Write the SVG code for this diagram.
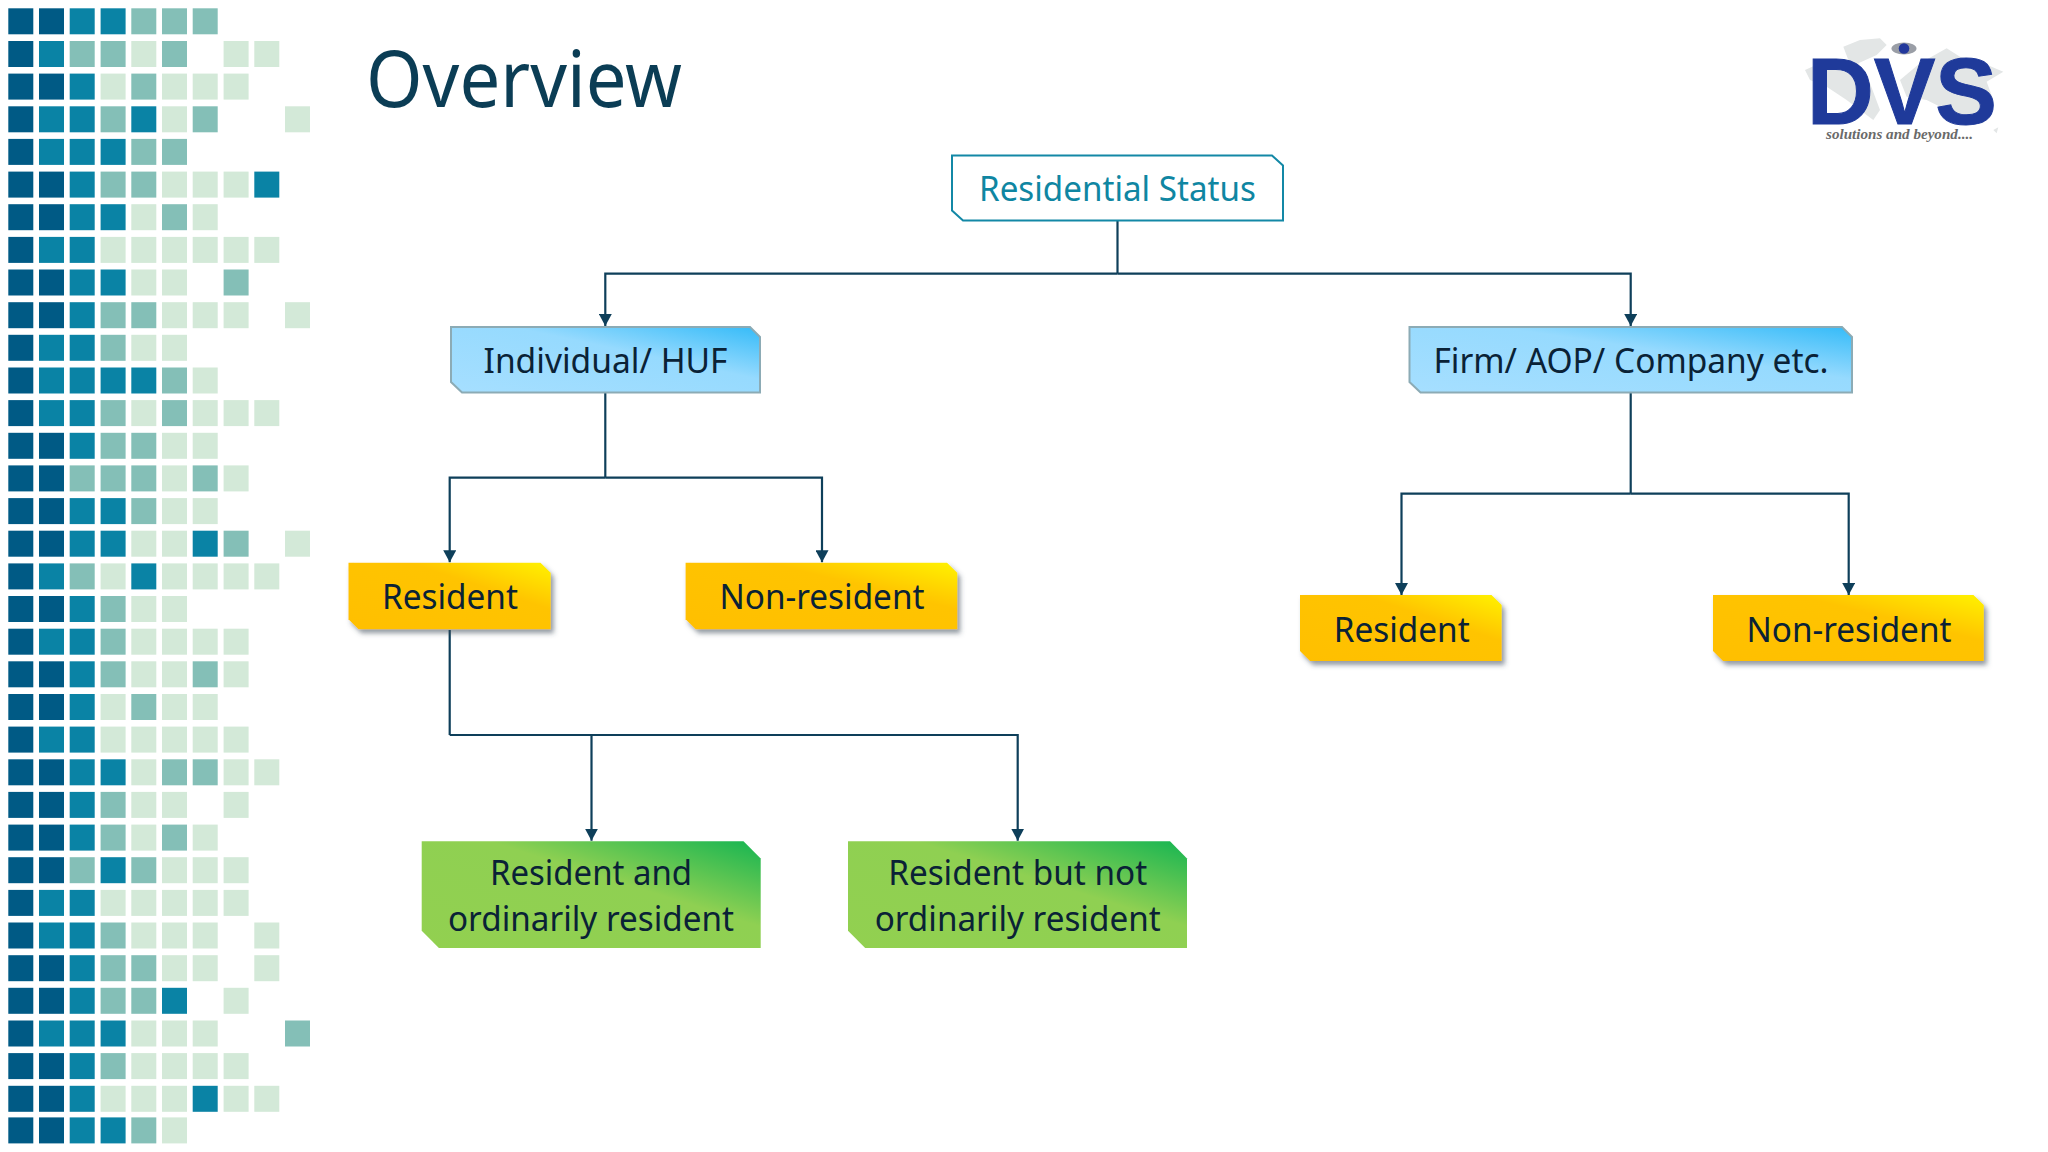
<svg xmlns="http://www.w3.org/2000/svg" width="2048" height="1152" viewBox="0 0 2048 1152">
<style>
text{font-family:"Noto Sans","Open Sans","Liberation Sans",sans-serif;text-anchor:middle}
.lbl{font-size:34px;fill:#0a2236}
.cn{fill:none;stroke:#0e3f5a;stroke-width:2.2}
.sq rect{width:25px;height:26px}
.d{fill:#005a85}.t{fill:#0a83a5}.m{fill:#84bfb7}.l{fill:#d3e9d8}
.blob{fill:#e3e6e6}
</style>
<defs>
<marker id="arr" markerUnits="userSpaceOnUse" markerWidth="13" markerHeight="13" refX="12" refY="6.5" orient="auto"><path d="M0 0L12 6.5L0 13z" fill="#0e3f5a"/></marker>
<linearGradient id="blue" x1="0" y1="1" x2="1" y2="0"><stop offset="0" stop-color="#a6dfff"/><stop offset=".6" stop-color="#96dafe"/><stop offset="1" stop-color="#35bbf8"/></linearGradient>
<linearGradient id="yel" x1="0" y1="1" x2="1" y2="0"><stop offset="0" stop-color="#ffbf00"/><stop offset=".65" stop-color="#ffc400"/><stop offset="1" stop-color="#fff200"/></linearGradient>
<linearGradient id="grn" x1="0" y1="1" x2="1" y2="0"><stop offset="0" stop-color="#92d050"/><stop offset=".6" stop-color="#8fd052"/><stop offset="1" stop-color="#16b552"/></linearGradient>
<filter id="sh" x="-10%" y="-10%" width="125%" height="135%"><feDropShadow dx="3" dy="4" stdDeviation="2.5" flood-color="#3a4a55" flood-opacity=".55"/></filter>
</defs>
<rect width="2048" height="1152" fill="#fff"/>
<g id="pattern" class="sq">
<g transform="translate(0,8.3)"><rect class="d" x="8.3"/><rect class="d" x="39"/><rect class="t" x="69.7"/><rect class="t" x="100.6"/><rect class="m" x="131.3"/><rect class="m" x="162"/><rect class="m" x="192.7"/></g>
<g transform="translate(0,41)"><rect class="d" x="8.3"/><rect class="t" x="39"/><rect class="m" x="69.7"/><rect class="m" x="100.6"/><rect class="l" x="131.3"/><rect class="m" x="162"/><rect class="l" x="223.6"/><rect class="l" x="254.3"/></g>
<g transform="translate(0,73.6)"><rect class="d" x="8.3"/><rect class="d" x="39"/><rect class="t" x="69.7"/><rect class="l" x="100.6"/><rect class="m" x="131.3"/><rect class="l" x="162"/><rect class="l" x="192.7"/><rect class="l" x="223.6"/></g>
<g transform="translate(0,106.3)"><rect class="d" x="8.3"/><rect class="t" x="39"/><rect class="t" x="69.7"/><rect class="m" x="100.6"/><rect class="t" x="131.3"/><rect class="l" x="162"/><rect class="m" x="192.7"/><rect class="l" x="285"/></g>
<g transform="translate(0,138.9)"><rect class="d" x="8.3"/><rect class="t" x="39"/><rect class="t" x="69.7"/><rect class="t" x="100.6"/><rect class="m" x="131.3"/><rect class="m" x="162"/></g>
<g transform="translate(0,171.6)"><rect class="d" x="8.3"/><rect class="d" x="39"/><rect class="t" x="69.7"/><rect class="m" x="100.6"/><rect class="m" x="131.3"/><rect class="l" x="162"/><rect class="l" x="192.7"/><rect class="l" x="223.6"/><rect class="t" x="254.3"/></g>
<g transform="translate(0,204.2)"><rect class="d" x="8.3"/><rect class="d" x="39"/><rect class="t" x="69.7"/><rect class="t" x="100.6"/><rect class="l" x="131.3"/><rect class="m" x="162"/><rect class="l" x="192.7"/></g>
<g transform="translate(0,236.9)"><rect class="d" x="8.3"/><rect class="t" x="39"/><rect class="t" x="69.7"/><rect class="l" x="100.6"/><rect class="l" x="131.3"/><rect class="l" x="162"/><rect class="l" x="192.7"/><rect class="l" x="223.6"/><rect class="l" x="254.3"/></g>
<g transform="translate(0,269.5)"><rect class="d" x="8.3"/><rect class="d" x="39"/><rect class="t" x="69.7"/><rect class="t" x="100.6"/><rect class="l" x="131.3"/><rect class="l" x="162"/><rect class="m" x="223.6"/></g>
<g transform="translate(0,302.2)"><rect class="d" x="8.3"/><rect class="d" x="39"/><rect class="t" x="69.7"/><rect class="m" x="100.6"/><rect class="m" x="131.3"/><rect class="l" x="162"/><rect class="l" x="192.7"/><rect class="l" x="223.6"/><rect class="l" x="285"/></g>
<g transform="translate(0,334.8)"><rect class="d" x="8.3"/><rect class="t" x="39"/><rect class="t" x="69.7"/><rect class="m" x="100.6"/><rect class="l" x="131.3"/><rect class="l" x="162"/></g>
<g transform="translate(0,367.5)"><rect class="d" x="8.3"/><rect class="t" x="39"/><rect class="t" x="69.7"/><rect class="t" x="100.6"/><rect class="t" x="131.3"/><rect class="m" x="162"/><rect class="l" x="192.7"/></g>
<g transform="translate(0,400.1)"><rect class="d" x="8.3"/><rect class="t" x="39"/><rect class="t" x="69.7"/><rect class="m" x="100.6"/><rect class="l" x="131.3"/><rect class="m" x="162"/><rect class="l" x="192.7"/><rect class="l" x="223.6"/><rect class="l" x="254.3"/></g>
<g transform="translate(0,432.8)"><rect class="d" x="8.3"/><rect class="d" x="39"/><rect class="t" x="69.7"/><rect class="m" x="100.6"/><rect class="m" x="131.3"/><rect class="l" x="162"/><rect class="l" x="192.7"/></g>
<g transform="translate(0,465.4)"><rect class="d" x="8.3"/><rect class="d" x="39"/><rect class="m" x="69.7"/><rect class="m" x="100.6"/><rect class="m" x="131.3"/><rect class="l" x="162"/><rect class="m" x="192.7"/><rect class="l" x="223.6"/></g>
<g transform="translate(0,498.1)"><rect class="d" x="8.3"/><rect class="d" x="39"/><rect class="t" x="69.7"/><rect class="t" x="100.6"/><rect class="m" x="131.3"/><rect class="l" x="162"/><rect class="l" x="192.7"/></g>
<g transform="translate(0,530.7)"><rect class="d" x="8.3"/><rect class="d" x="39"/><rect class="t" x="69.7"/><rect class="t" x="100.6"/><rect class="l" x="131.3"/><rect class="l" x="162"/><rect class="t" x="192.7"/><rect class="m" x="223.6"/><rect class="l" x="285"/></g>
<g transform="translate(0,563.4)"><rect class="d" x="8.3"/><rect class="t" x="39"/><rect class="m" x="69.7"/><rect class="l" x="100.6"/><rect class="t" x="131.3"/><rect class="l" x="162"/><rect class="l" x="192.7"/><rect class="l" x="223.6"/><rect class="l" x="254.3"/></g>
<g transform="translate(0,596)"><rect class="d" x="8.3"/><rect class="d" x="39"/><rect class="t" x="69.7"/><rect class="m" x="100.6"/><rect class="l" x="131.3"/><rect class="l" x="162"/></g>
<g transform="translate(0,628.7)"><rect class="d" x="8.3"/><rect class="t" x="39"/><rect class="t" x="69.7"/><rect class="m" x="100.6"/><rect class="l" x="131.3"/><rect class="l" x="162"/><rect class="l" x="192.7"/><rect class="l" x="223.6"/></g>
<g transform="translate(0,661.3)"><rect class="d" x="8.3"/><rect class="d" x="39"/><rect class="t" x="69.7"/><rect class="m" x="100.6"/><rect class="l" x="131.3"/><rect class="l" x="162"/><rect class="m" x="192.7"/><rect class="l" x="223.6"/></g>
<g transform="translate(0,694)"><rect class="d" x="8.3"/><rect class="d" x="39"/><rect class="t" x="69.7"/><rect class="l" x="100.6"/><rect class="m" x="131.3"/><rect class="l" x="162"/><rect class="l" x="192.7"/></g>
<g transform="translate(0,726.6)"><rect class="d" x="8.3"/><rect class="t" x="39"/><rect class="t" x="69.7"/><rect class="l" x="100.6"/><rect class="l" x="131.3"/><rect class="l" x="162"/><rect class="l" x="192.7"/><rect class="l" x="223.6"/></g>
<g transform="translate(0,759.3)"><rect class="d" x="8.3"/><rect class="d" x="39"/><rect class="t" x="69.7"/><rect class="t" x="100.6"/><rect class="l" x="131.3"/><rect class="m" x="162"/><rect class="m" x="192.7"/><rect class="l" x="223.6"/><rect class="l" x="254.3"/></g>
<g transform="translate(0,791.9)"><rect class="d" x="8.3"/><rect class="d" x="39"/><rect class="t" x="69.7"/><rect class="m" x="100.6"/><rect class="l" x="131.3"/><rect class="l" x="162"/><rect class="l" x="223.6"/></g>
<g transform="translate(0,824.6)"><rect class="d" x="8.3"/><rect class="d" x="39"/><rect class="t" x="69.7"/><rect class="m" x="100.6"/><rect class="l" x="131.3"/><rect class="m" x="162"/><rect class="l" x="192.7"/></g>
<g transform="translate(0,857.2)"><rect class="d" x="8.3"/><rect class="d" x="39"/><rect class="m" x="69.7"/><rect class="t" x="100.6"/><rect class="m" x="131.3"/><rect class="l" x="162"/><rect class="l" x="192.7"/><rect class="l" x="223.6"/></g>
<g transform="translate(0,889.9)"><rect class="d" x="8.3"/><rect class="t" x="39"/><rect class="t" x="69.7"/><rect class="l" x="100.6"/><rect class="l" x="131.3"/><rect class="l" x="162"/><rect class="l" x="192.7"/><rect class="l" x="223.6"/></g>
<g transform="translate(0,922.5)"><rect class="d" x="8.3"/><rect class="t" x="39"/><rect class="t" x="69.7"/><rect class="m" x="100.6"/><rect class="l" x="131.3"/><rect class="l" x="162"/><rect class="l" x="192.7"/><rect class="l" x="254.3"/></g>
<g transform="translate(0,955.2)"><rect class="d" x="8.3"/><rect class="d" x="39"/><rect class="t" x="69.7"/><rect class="m" x="100.6"/><rect class="m" x="131.3"/><rect class="l" x="162"/><rect class="l" x="192.7"/><rect class="l" x="254.3"/></g>
<g transform="translate(0,987.8)"><rect class="d" x="8.3"/><rect class="d" x="39"/><rect class="t" x="69.7"/><rect class="m" x="100.6"/><rect class="m" x="131.3"/><rect class="t" x="162"/><rect class="l" x="223.6"/></g>
<g transform="translate(0,1020.5)"><rect class="d" x="8.3"/><rect class="t" x="39"/><rect class="t" x="69.7"/><rect class="t" x="100.6"/><rect class="l" x="131.3"/><rect class="l" x="162"/><rect class="l" x="192.7"/><rect class="m" x="285"/></g>
<g transform="translate(0,1053.1)"><rect class="d" x="8.3"/><rect class="d" x="39"/><rect class="t" x="69.7"/><rect class="m" x="100.6"/><rect class="l" x="131.3"/><rect class="l" x="162"/><rect class="l" x="192.7"/><rect class="l" x="223.6"/></g>
<g transform="translate(0,1085.8)"><rect class="d" x="8.3"/><rect class="d" x="39"/><rect class="t" x="69.7"/><rect class="l" x="100.6"/><rect class="l" x="131.3"/><rect class="l" x="162"/><rect class="t" x="192.7"/><rect class="l" x="223.6"/><rect class="l" x="254.3"/></g>
<g transform="translate(0,1117.4)"><rect class="d" x="8.3"/><rect class="d" x="39"/><rect class="t" x="69.7"/><rect class="t" x="100.6"/><rect class="m" x="131.3"/><rect class="l" x="162"/></g>
</g>
<text id="title" x="524" y="107" font-size="78" fill="#0b3d55" textLength="316" lengthAdjust="spacingAndGlyphs">Overview</text>
<g id="logo">
<g transform="translate(1780,20) scale(.3333)">
<path class="blob" d="M75 150L130 125L205 120L190 80L240 60L300 55L320 75L290 105L235 130L270 190L300 270L280 300L200 240L140 200L90 180z"/>
<path class="blob" d="M360 180L420 130L500 85L540 110L610 130L670 155L620 185L640 240L610 310L560 300L500 270L440 240L380 230z"/>
<path class="blob" d="M640 330L655 322L650 340z"/>
</g>
<ellipse cx="1904" cy="48.500" rx="12.500" ry="6" fill="#9a9ea6"/>
<circle cx="1904" cy="48.500" r="5.300" fill="#22389c"/>
<text x="1902" y="124" font-size="94" font-weight="700" fill="#1f3a9a" stroke="#1f3a9a" stroke-width="1" style="font-family:'Liberation Sans',sans-serif" textLength="190" lengthAdjust="spacingAndGlyphs">DVS</text>
<text x="1899.500" y="139" font-size="14" font-weight="700" font-style="italic" fill="#6a6a6a" style="font-family:'Liberation Serif',serif" textLength="147" lengthAdjust="spacingAndGlyphs">solutions and beyond....</text>
</g>
<g id="connectors" class="cns">
<path class="cn" d="M1117.500 221V273.700"/>
<path class="cn" d="M1117.500 273.700H605.300V326" marker-end="url(#arr)"/>
<path class="cn" d="M1117.500 273.700H1630.700V326" marker-end="url(#arr)"/>
<path class="cn" d="M605.300 393V477.700"/>
<path class="cn" d="M605.300 477.700H449.700V562.300" marker-end="url(#arr)"/>
<path class="cn" d="M605.300 477.700H822V562.300" marker-end="url(#arr)"/>
<path class="cn" d="M1630.700 393V493.700"/>
<path class="cn" d="M1630.700 493.700H1401.500V595" marker-end="url(#arr)"/>
<path class="cn" d="M1630.700 493.700H1848.700V595" marker-end="url(#arr)"/>
<path class="cn" d="M449.700 630V735"/>
<path class="cn" d="M449.700 735H591.500V840.700" marker-end="url(#arr)"/>
<path class="cn" d="M591.500 735H1017.700V840.700" marker-end="url(#arr)"/>
</g>
<g id="node-status">
<path d="M952 155.500H1272L1283 165.500V220.500H963L952 210.500z" fill="#fff" stroke="#1388a6" stroke-width="2"/>
<text x="1117.500" y="200.700" font-size="34" fill="#0f86a2" textLength="277" lengthAdjust="spacingAndGlyphs">Residential Status</text>
</g>
<g id="node-individual">
<path d="M451 327H750L760 337V392.500H462L451 382z" fill="url(#blue)" stroke="#8cabb5" stroke-width="2"/>
<text class="lbl" x="605.500" y="373.300" textLength="244" lengthAdjust="spacingAndGlyphs">Individual/ HUF</text>
</g>
<g id="node-firm">
<path d="M1409.500 327H1842L1852 337V392.500H1420.500L1409.500 382z" fill="url(#blue)" stroke="#8cabb5" stroke-width="2"/>
<text class="lbl" x="1631" y="373.300" textLength="395" lengthAdjust="spacingAndGlyphs">Firm/ AOP/ Company etc.</text>
</g>
<g id="node-resident-left">
<path d="M348.500 562.700H540.500L550.700 572.700V629.300H358.500L348.500 619.300z" fill="url(#yel)" filter="url(#sh)"/>
<text class="lbl" x="450" y="608.700" textLength="136" lengthAdjust="spacingAndGlyphs">Resident</text>
</g>
<g id="node-nonresident-left">
<path d="M685.600 562.700H947L957.300 572.700V629.300H695.600L685.600 619.300z" fill="url(#yel)" filter="url(#sh)"/>
<text class="lbl" x="822" y="608.700" textLength="205" lengthAdjust="spacingAndGlyphs">Non-resident</text>
</g>
<g id="node-resident-right">
<path d="M1300 595H1491.500L1501.700 605V661H1310L1300 651z" fill="url(#yel)" filter="url(#sh)"/>
<text class="lbl" x="1401.700" y="641.500" textLength="136" lengthAdjust="spacingAndGlyphs">Resident</text>
</g>
<g id="node-nonresident-right">
<path d="M1713 595H1973.500L1983.800 605V661H1723L1713 651z" fill="url(#yel)" filter="url(#sh)"/>
<text class="lbl" x="1849" y="641.500" textLength="205" lengthAdjust="spacingAndGlyphs">Non-resident</text>
</g>
<g id="node-roar">
<path d="M421.700 841.300H743.500L760.700 858.500V948H438.900L421.700 930.800z" fill="url(#grn)"/>
<text class="lbl" x="591" y="885" textLength="202" lengthAdjust="spacingAndGlyphs">Resident and</text>
<text class="lbl" x="591" y="930.700" textLength="286" lengthAdjust="spacingAndGlyphs">ordinarily resident</text>
</g>
<g id="node-rnor">
<path d="M848 841.300H1170L1187 858.500V948H865.200L848 930.800z" fill="url(#grn)"/>
<text class="lbl" x="1017.700" y="885" textLength="259" lengthAdjust="spacingAndGlyphs">Resident but not</text>
<text class="lbl" x="1017.700" y="930.700" textLength="286" lengthAdjust="spacingAndGlyphs">ordinarily resident</text>
</g>
</svg>
